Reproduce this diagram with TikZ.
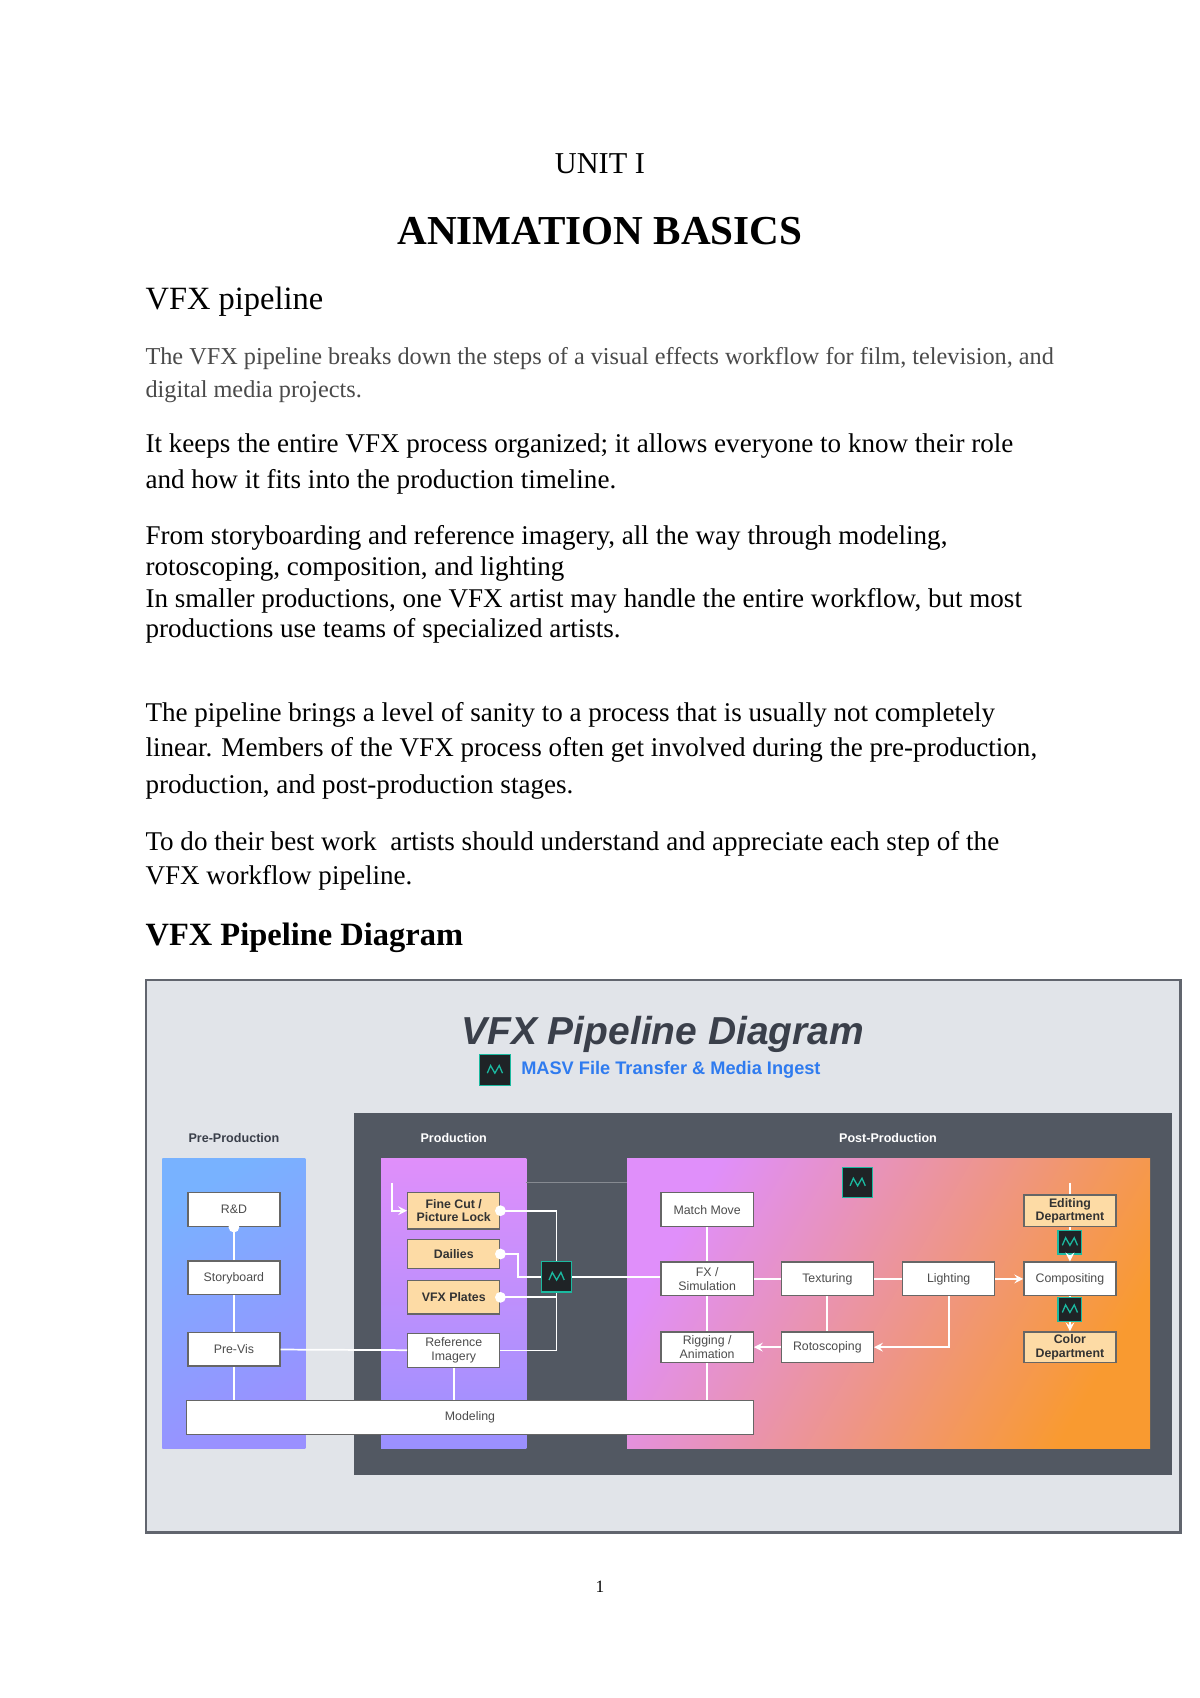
\documentclass[tikz,border=0pt]{standalone}
\usepackage{fontspec}
\setmainfont{Liberation Serif}
\newfontfamily\dsans{Liberation Sans}
\usetikzlibrary{calc}
\definecolor{bggray}{HTML}{E1E4E9}
\definecolor{darkpanel}{HTML}{525862}
\definecolor{titlegray}{HTML}{3A3F4A}
\definecolor{masvblue}{HTML}{2F7BEF}
\definecolor{boxorange}{HTML}{FDDBA5}
\definecolor{icondark}{HTML}{1F2326}
\definecolor{iconteal}{HTML}{1BB9A0}
\definecolor{lblue}{HTML}{78B2FF}
\definecolor{violet}{HTML}{9A90FF}
\definecolor{pinkv}{HTML}{E08FFA}
\definecolor{porange}{HTML}{F99A30}
\definecolor{bodygray}{HTML}{4A4A4A}
\tikzset{
  x=0.5pt, y=-0.5pt,
  body/.style={anchor=base west, inner sep=0pt, font=\fontsize{12.5}{14}\selectfont},
  lightbody/.style={anchor=base west, inner sep=0pt, text=bodygray, font=\fontsize{11.2}{13}\selectfont},
  wbox/.style={draw=gray!80!black, line width=0.6pt, fill=white, minimum width=42.5pt, minimum height=15.5pt, inner sep=1pt, align=center, text=gray!60!black, font=\dsans\fontsize{5.7}{6.2}\selectfont},
  obox/.style={wbox, fill=boxorange, text=black!80, font=\dsans\bfseries\fontsize{5.7}{6.2}\selectfont},
  masv/.style={draw=iconteal, fill=icondark, line width=0.6pt, minimum size=#1, inner sep=0pt},
  zig/.style={draw=iconteal, line width=0.6pt},
  wire/.style={draw=white, line width=0.8pt},
  dot/.style={circle, fill=white, inner sep=0pt, minimum size=5pt},
  plabel/.style={font=\dsans\bfseries\fontsize{5.8}{6}\selectfont}
}
\newcommand\zigzag[1]{\draw[zig] ($(#1.center)+(-7,3)$) -- ++(3,-7) -- ++(4,7) -- ++(4,-7) -- ++(3,7);}
\begin{document}
\begin{tikzpicture}
\useasboundingbox (0,0) rectangle (1108,1568);
\fill[white] (0,0) rectangle (1108,1568);
% document text
\node (unit) at (554,151) {\fontsize{14}{16}\selectfont UNIT I};
\node (abasics) at (554,213) {\fontsize{19}{22}\selectfont\bfseries ANIMATION BASICS};
\node[body, font=\fontsize{15}{17}\selectfont] (vfxp) at (134,286) {VFX pipeline};
\node[lightbody] (l1) at (134,337) {The VFX pipeline breaks down the steps of a visual effects workflow for film, television, and};
\node[lightbody] (l2) at (134,367) {digital media projects.};
\node[body] (l3) at (134,418) {It keeps the entire VFX process organized; it allows everyone to know their role};
\node[body] (l4) at (134,451) {and how it fits into the production timeline.};
\node[body] (l5) at (134,503) {From storyboarding and reference imagery, all the way through modeling,};
\node[body] (l6) at (134,531) {rotoscoping, composition, and lighting};
\node[body] (l7) at (134,561) {In smaller productions, one VFX artist may handle the entire workflow, but most};
\node[body] (l8) at (134,589) {productions use teams of specialized artists.};
\node[body] (l9) at (134,666) {The pipeline brings a level of sanity to a process that is usually not completely};
\node[body] (l10) at (134,699) {linear. Members of the VFX process often get involved during the pre-production,};
\node[body] (l11) at (134,733) {production, and post-production stages.};
\node[body] (l12) at (134,785) {To do their best work\ \ artists should understand and appreciate each step of the};
\node[body] (l13) at (134,817) {VFX workflow pipeline.};
\node[body, font=\fontsize{15}{17}\selectfont\bfseries] (vhead) at (134,873) {VFX Pipeline Diagram};
\node (pnum) at (554,1465) {\fontsize{8}{9}\selectfont 1};
% diagram frame
\draw[fill=bggray, draw=titlegray!80, line width=1.2pt] (135,905) rectangle (1090,1415);
\node[font=\dsans\bfseries\itshape\fontsize{18}{20}\selectfont, text=titlegray] (dtitle) at (612,955) {VFX Pipeline Diagram};
\node[masv=14.5pt] (mtop) at (457,988) {}; \zigzag{mtop}
\node[anchor=west, inner sep=0pt, text=masvblue, font=\dsans\bfseries\fontsize{8.4}{9}\selectfont] (msub) at (481,988) {MASV File Transfer \& Media Ingest};
\fill[darkpanel] (327,1028) rectangle (1082,1362);
\node[plabel, text=titlegray] (prel) at (216,1051) {Pre-Production};
\node[plabel, text=white] (prodl) at (419,1051) {Production};
\node[plabel, text=white] (postl) at (820,1051) {Post-Production};
\shade[top color=lblue, bottom color=violet, shading angle=30] (150,1070) rectangle (282,1338);
\shade[top color=pinkv, bottom color=violet] (352,1070) rectangle (486,1338);
\shade[left color=pinkv, right color=porange, shading angle=60] (579,1070) rectangle (1062,1338);
\draw[darkpanel!70!white, line width=0.5pt] (486,1092) -- (579,1092);
% nodes
\node[wbox] (rd) at (216,1117) {R\&D};
\node[wbox] (story) at (216,1180) {Storyboard};
\node[wbox] (previs) at (216,1246) {Pre-Vis};
\node[obox, minimum height=17pt] (fine) at (419,1118) {Fine Cut /\\Picture Lock};
\node[obox, minimum height=13.5pt] (dailies) at (419,1158) {Dailies};
\node[obox] (plates) at (419,1198) {VFX Plates};
\node[wbox] (refimg) at (419,1247) {Reference\\Imagery};
\node[wbox, minimum width=261.5pt] (model) at (434,1309) {Modeling};
\node[wbox] (match) at (653,1117) {Match Move};
\node[wbox] (fx) at (653,1181) {FX /\\Simulation};
\node[wbox, minimum height=14pt] (rig) at (653,1244) {Rigging /\\Animation};
\node[wbox] (tex) at (764,1181) {Texturing};
\node[wbox, minimum height=14pt] (roto) at (764,1244) {Rotoscoping};
\node[wbox] (light) at (876,1181) {Lighting};
\node[obox, minimum height=14.5pt] (edit) at (988,1118) {Editing\\Department};
\node[wbox] (comp) at (988,1181) {Compositing};
\node[obox, minimum height=14pt] (color) at (988,1244) {Color\\Department};
\node[masv=14pt] (mprod) at (514,1179) {}; \zigzag{mprod}
\node[masv=14pt] (mpost) at (792,1092) {}; \zigzag{mpost}
\node[masv=11pt] (medit) at (988,1147) {}; \zigzag{medit}
\node[masv=11pt] (mcolor) at (988,1209) {}; \zigzag{mcolor}
\coordinate (finein) at (362,1092);
\coordinate (edin) at (988,1092);
% connectors
\draw[wire] (rd) -- (story); \node[dot] at (rd.south) {};
\draw[wire] (story) -- (previs);
\draw[wire] (previs) -- (previs |- model.north);
\draw[wire] (previs) -- (refimg);
\draw[wire] (refimg) -- (refimg |- model.north);
\draw[wire, ->, >=stealth] (finein) |- (fine.west);
\draw[wire] (fine.east) -| (mprod.north);
\draw[wire] (dailies.east) -- ++(16,0) |- (mprod.west);
\draw[wire] (plates.east) -| (mprod.south);
\draw[wire] (refimg.east) -| (mprod.south);
\node[dot] at (fine.east) {}; \node[dot] at (dailies.east) {}; \node[dot] at (plates.east) {};
\draw[wire] (mprod.east) -- (mprod.east -| fx.west);
\draw[wire] (match) -- (fx);
\draw[wire] (fx) -- (rig);
\draw[wire] (rig) -- (rig |- model.north);
\draw[wire] (fx) -- (tex);
\draw[wire] (tex) -- (light);
\draw[wire, ->, >=stealth] (light) -- (comp);
\draw[wire] (tex) -- (roto);
\draw[wire, ->, >=stealth] (light.south) |- (roto.east);
\draw[wire, ->, >=stealth] (roto) -- (rig);
\draw[wire] (edin) -- (edit.north);
\draw[wire] (edit) -- (medit);
\draw[wire, ->, >=stealth] (medit) -- (comp);
\draw[wire] (comp) -- (mcolor);
\draw[wire, ->, >=stealth] (mcolor) -- (color);
\end{tikzpicture}
\end{document}
